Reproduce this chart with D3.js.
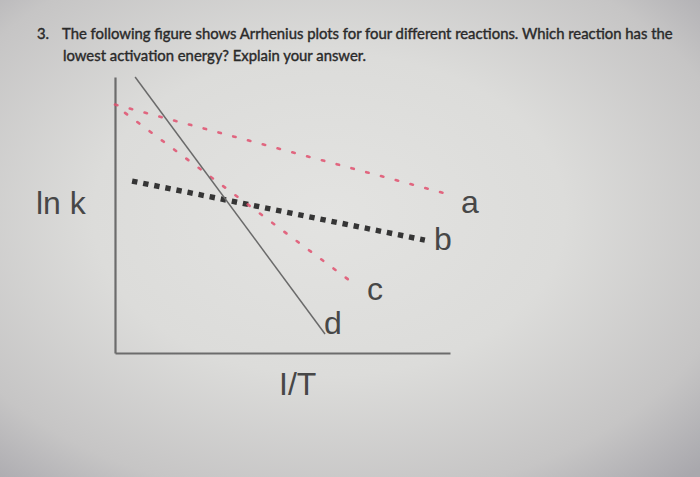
<!DOCTYPE html>
<html>
<head>
<meta charset="utf-8">
<script src="https://cdn.jsdelivr.net/npm/d3@7/dist/d3.min.js"></script>
<style>
html,body{margin:0;padding:0;background:#d4d4d4;}
svg{display:block;}
</style>
</head>
<body>
<svg id="chart" width="700" height="477"></svg>
<script>
// ---- data (arbitrary units: x = 1/T, y = ln k) ----
const seriesNames = ["a", "b", "c", "d"];
const lineA = [[0.0, 9.0], [10.05, 5.72]];
const lineB = [[0.51, 6.23], [9.25, 4.09]];
const lineC = [[0.30, 8.70], [7.22, 2.43]];
const lineD = [[0.60, 10.0], [6.27, 0.69]];
const xDomain = [0, 10];
const yDomain = [0, 10];
const xLabel = "I/T";
const yLabel = "ln k";
const questionLines = [
  "The following figure shows Arrhenius plots for four different reactions. Which reaction has the",
  "lowest activation energy? Explain your answer."
];
const questionNumber = "3.";

const svg = d3.select("#chart");
const W = 700, H = 477;

// background vignette like the photo
const defs = svg.append("defs");
const rg = defs.append("radialGradient").attr("id", "bg")
  .attr("cx", 0.47).attr("cy", 0.45).attr("r", 0.75);
rg.append("stop").attr("offset", "0").attr("stop-color", "#e3e3e1");
rg.append("stop").attr("offset", "0.45").attr("stop-color", "#dcdcda");
rg.append("stop").attr("offset", "0.8").attr("stop-color", "#c6c5c5");
rg.append("stop").attr("offset", "1").attr("stop-color", "#a9a8ad");
svg.append("rect").attr("width", W).attr("height", H).attr("fill", "url(#bg)");

// question text
const qFont = "Lato, 'Open Sans', sans-serif";
const qText = svg.append("g");
qText.append("text").attr("x", 37).attr("y", 39).text(questionNumber);
const q1 = qText.append("text").attr("x", 62).attr("y", 39).text(questionLines[0]);
qText.append("text").attr("x", 63).attr("y", 61).text(questionLines[1]);
qText.selectAll("text").attr("font-family", qFont).attr("font-size", 14)
  .attr("fill", "#2a2a2a").attr("stroke", "#2a2a2a").attr("stroke-width", 0.4);
// fit the first line to its width in the photo
const len = q1.node().getComputedTextLength();
qText.selectAll("text").attr("font-size", 14 * 611 / len);

// scales
const x = d3.scaleLinear().domain(xDomain).range([115, 450]);
const y = d3.scaleLinear().domain(yDomain).range([353, 77]);

// axes (plain lines, no ticks)
const xAxis = d3.axisBottom(x).tickValues([]).tickSizeOuter(0);
const yAxis = d3.axisLeft(y).tickValues([]).tickSizeOuter(0);
const gx = svg.append("g").attr("transform", `translate(0,${y(0)})`).call(xAxis);
const gy = svg.append("g").attr("transform", `translate(${x(0)},0)`).call(yAxis);
[gx, gy].forEach(g => g.select(".domain").attr("stroke", "#6c6c6c").attr("stroke-width", 2.2));

const line = d3.line().x(d => x(d[0])).y(d => y(d[1]));

const styles = {
  a: {data: lineA, stroke: "#e0506e", width: 2.6, dash: "2.5 12.8", cap: "round", op: 0.85},
  b: {data: lineB, stroke: "#353535", width: 5.4, dash: "5.4 5.9", cap: "butt", op: 1},
  c: {data: lineC, stroke: "#e0506e", width: 2.6, dash: "2.5 12.8", cap: "round", op: 0.85},
  d: {data: lineD, stroke: "#6a6a6a", width: 1.5, dash: null, cap: "butt", op: 1}
};

seriesNames.forEach(n => {
  const s = styles[n];
  svg.append("path").datum(s.data).attr("d", line)
    .attr("fill", "none").attr("stroke", s.stroke)
    .attr("stroke-width", s.width).attr("stroke-linecap", s.cap)
    .attr("stroke-dasharray", s.dash).attr("opacity", s.op);
});

// series labels
const labelFont = "'Liberation Sans', Arial, sans-serif";
const labelPos = {a: [461, 213], b: [434, 250], c: [367, 300], d: [324, 334]};
seriesNames.forEach(n => {
  svg.append("text").attr("x", labelPos[n][0]).attr("y", labelPos[n][1]).text(n)
    .attr("font-family", labelFont).attr("font-size", 32).attr("fill", "#474747");
});

// axis titles
svg.append("text").attr("x", 36).attr("y", 214).text(yLabel)
  .attr("font-family", labelFont).attr("font-size", 32).attr("fill", "#474747");
svg.append("text").attr("x", 279).attr("y", 395).text(xLabel)
  .attr("font-family", labelFont).attr("font-size", 32).attr("fill", "#474747");
</script>
</body>
</html>
